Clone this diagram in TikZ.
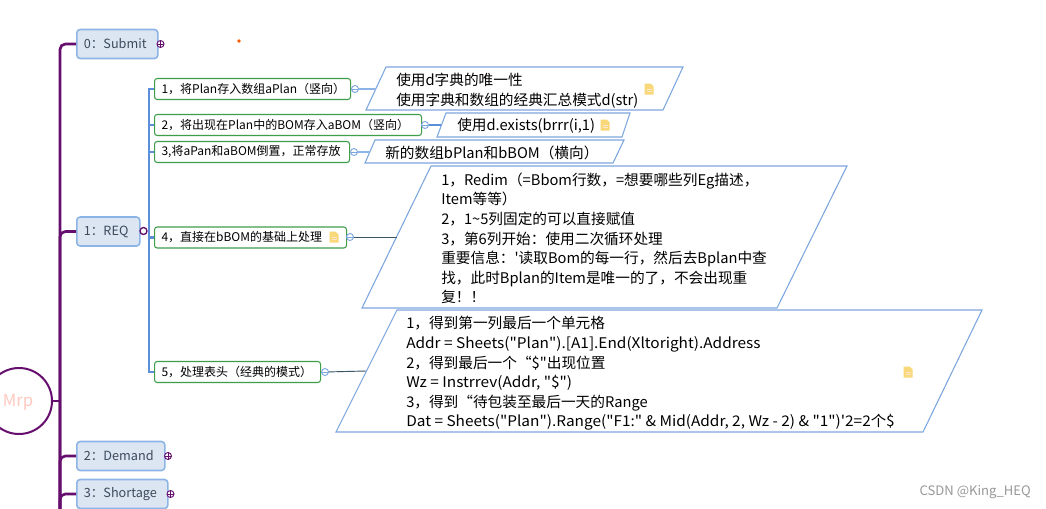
\documentclass[tikz,border=0pt]{standalone}
\usepackage{fontspec}
\usepackage{tikz}
\usetikzlibrary{calc}
\newfontfamily\cjkfont{Noto Sans CJK SC}
\newfontfamily\widefont[FakeStretch=1.05]{Noto Sans CJK SC}
\newcommand{\px}{0.75pt}
\definecolor{trunkpurple}{HTML}{660E6E}
\definecolor{topicfill}{HTML}{DCE6F3}
\definecolor{topicline}{HTML}{8DB4E6}
\definecolor{topictext}{HTML}{3D4A5C}
\definecolor{subgreen}{HTML}{3F9E4A}
\definecolor{branchblue}{HTML}{5B90D8}
\definecolor{slopeline}{HTML}{7DA6DE}
\definecolor{notefill}{HTML}{F8D878}
\definecolor{darkline}{HTML}{3A5468}
\tikzset{
  topic/.style={draw=topicline,fill=topicfill,line width=1.2pt,rounded corners=2.5pt,anchor=west,
    minimum height=29*\px,inner sep=0pt,text width=#1*\px-14*\px,inner xsep=7*\px,align=left,
    font=\cjkfont\fontsize{9.5}{12}\selectfont,text=topictext},
  sub/.style={draw=subgreen,line width=0.8pt,rounded corners=2pt,anchor=west,
    minimum height=21*\px,inner ysep=0pt,inner xsep=7*\px,text width=#1*\px-14*\px,align=left,
    font=\cjkfont\fontsize{9}{12}\selectfont},
  detail/.style={anchor=west,inner sep=0pt,align=left,font=\cjkfont\fontsize{11}{14.7}\selectfont},
  slope/.style={draw=slopeline,line width=0.8pt},
  fold/.style={circle,draw=#1,line width=0.7pt,fill=white,minimum size=7*\px,inner sep=0pt,
    path picture={\draw[#1,line width=0.6pt] (path picture bounding box.west) -- (path picture bounding box.east);}},
  foldplus/.style={fold=#1,
    append after command={(\tikzlastnode.north) edge[#1,line width=0.6pt] (\tikzlastnode.south)}},
  trunk/.style={draw=trunkpurple,line width=2pt,rounded corners=4pt},
  link/.style={draw=topicline,line width=1.4pt},
  darklink/.style={draw=darkline,line width=0.7pt},
  noteicon/.pic={
    \fill[notefill] (-4.5,-5.5) -- (1.5,-5.5) -- (4.5,-2.5) -- (4.5,5.5) -- (-4.5,5.5) -- cycle;
    \draw[white!80!orange,line width=0.3pt] (-2.5,0) -- (2.5,0) (-2.5,2.5) -- (2.5,2.5);
  }
}
\begin{document}
\begin{tikzpicture}[x=\px,y=-\px]
    \useasboundingbox[fill=white] (0,0) rectangle (1046,508);

    % main topics
    \node[circle,draw=trunkpurple,line width=1.5pt,minimum size=66*\px,inner sep=0pt] (root) at (19,401) {};
    \node[font=\cjkfont\fontsize{12.5}{14}\selectfont,text=orange!30!red!25,inner sep=0pt] (rootText) at (18,402.5) {Mrp};
    \node[topic=81] (submit) at (76,44) {0：Submit};
    \node[topic=63] (req) at (76,231.5) {1：REQ};
    \node[topic=88] (demand) at (76,456) {2：Demand};
    \node[topic=91] (shortage) at (76,494) {3：Shortage};
    \coordinate (trunkEnd) at (60,512);

    \foreach \n in {submit,req,demand,shortage}
      \draw[trunk] (\n.west) -| (trunkEnd);
    \draw[trunk] (root.east) -- (root.east -| trunkEnd);

    \node[foldplus=trunkpurple] (submitDot) at (160.5,44) {};
    \node[circle,draw=trunkpurple,line width=1pt,fill=white,minimum size=7*\px,inner sep=0pt] (reqDot) at (143.5,231) {};
    \node[foldplus=trunkpurple] (demandDot) at (168,456) {};
    \node[foldplus=trunkpurple] (shortageDot) at (170.5,494) {};
    \fill[orange!70!red] (239,41) circle (1.8);

    % second level
    \node[sub=196] (planBox) at (154,89) {1，将Plan存入数组aPlan（竖向）};
    \node[sub=267] (bomBox) at (154,125) {2，将出现在Plan中的BOM存入aBOM（竖向）};
    \node[sub=195] (swapBox) at (154,152) {3,将aPan和aBOM倒置，正常存放};
    \node[sub=192] (baseBox) at (154,237.5) {4，直接在bBOM的基础上处理};
    \node[sub=166] (headBox) at (154,372) {5，处理表头（经典的模式）};
    \coordinate (branchTop) at (149,231);
    \foreach \n in {planBox,bomBox,swapBox,baseBox,headBox}
      \draw[branchblue,line width=1.6pt] (\n.west) -| (branchTop);
    \draw[branchblue,line width=1pt] (reqDot) -- (branchTop);

    % parallelograms with the notes
    \draw[slope] (386,67) -- (683,67) -- (663,110) -- (366,110) -- cycle;
    \draw[slope] (446,113) -- (630,113) -- (622,137) -- (437,137) -- cycle;
    \draw[slope] (375,140) -- (624,140) -- (613,163) -- (365,163) -- cycle;
    \draw[slope] (431,166) -- (847,166) -- (777,308) -- (362,308) -- cycle;
    \draw[slope] (397,310) -- (982,310) -- (923,432) -- (336,432) -- cycle;
    \coordinate (planEdge) at (376,89);
    \coordinate (bomEdge) at (441,125);
    \coordinate (swapEdge) at (370,152);
    \coordinate (baseEdge) at (397,237);
    \coordinate (headEdge) at (366,371);

    \node[fold=slopeline] (planDot) at (355,89) {};
    \node[fold=slopeline] (bomDot) at (425,125) {};
    \node[fold=slopeline] (swapDot) at (354,152) {};
    \node[fold=slopeline] (baseDot) at (350,237) {};
    \node[fold=slopeline] (headDot) at (325,372) {};
    \draw[link] (planDot) -- (planEdge);
    \draw[link] (swapDot) -- (swapEdge);
    \draw[branchblue,line width=0.8pt] (bomDot) -- (bomEdge);
    \draw[darklink] (baseDot) -- (baseEdge);
    \draw[darklink] (headDot) -- (headEdge);

    \node[detail] (planText) at (396,91) {使用d字典的唯一性\\使用字典和数组的经典汇总模式d(str)};
    \node[detail] (bomText) at (457,126) {使用d.exists(brrr(i,1)};
    \node[detail] (swapText) at (385,153) {新的数组bPlan和bBOM（横向）};
    \node[detail] (baseText) at (441,238.5) {1，Redim（=Bbom行数，=想要哪些列Eg描述，\\Item等等）\\2，1\string~5列固定的可以直接赋值\\3，第6列开始：使用二次循环处理\\重要信息：'读取Bom的每一行，然后去Bplan中查\\找，此时Bplan的Item是唯一的了，不会出现重\\复！！};
    \node[detail] (headText) at (406,373.5) {1，得到第一列最后一个单元格\\{\widefont Addr = Sheets("Plan").[A1].End(Xltoright).Address}\\2，得到最后一个“\$"出现位置\\{\widefont Wz = Instrrev(Addr, "\$")}\\3，得到“待包装至最后一天的Range\\{\widefont Dat = Sheets("Plan").Range("F1:" \& Mid(Addr, 2, Wz - 2) \& "1")'2=2个\$}};

    \pic at (649,89) {noteicon};
    \pic at (605,125) {noteicon};
    \pic at (334,237) {noteicon};
    \pic at (908,372) {noteicon};

    \node[anchor=east,inner sep=0pt,text=black!40,font=\cjkfont\fontsize{9.8}{11}\selectfont] (mark) at (1031,492) {CSDN @King\_HEQ};
\end{tikzpicture}
\end{document}
